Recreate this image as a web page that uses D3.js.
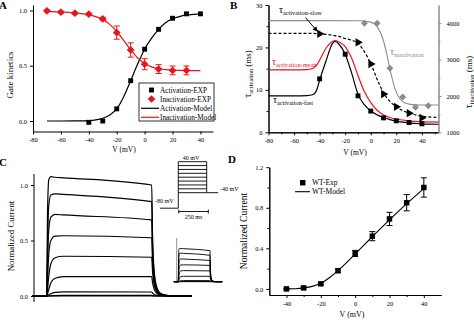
<!DOCTYPE html>
<html><head><meta charset="utf-8">
<script src="https://cdn.jsdelivr.net/npm/d3@7"></script>
<style>body{margin:0;background:#fff}svg{display:block}</style>
</head><body><svg id="c" width="474" height="321"></svg>
<script>
// ---------- Panel A data ----------
const aActVolt = [-40,-30,-20,-10,0,10,20,30,40];
const aActExp = [-0.012,0.0,0.11,0.365,0.65,0.83,0.93,0.97,0.97];
const aInVolt = [-70,-60,-50,-40,-30,-20,-10,0,10,20,30];
const aInactExp = [0.997,0.985,0.976,0.967,0.924,0.80,0.643,0.514,0.47,0.458,0.458];
const aInactErr = [0.008,0.008,0.008,0.01,0.015,0.06,0.065,0.05,0.04,0.04,0.04];
const aModelVolt = [-70,-60,-50,-40,-35,-30,-25,-20,-15,-10,-5,0,5,10,15,20,25,30,35,40];
const aActModel = [0,0,0.001,0.004,0.01,0.025,0.055,0.11,0.22,0.365,0.515,0.65,0.75,0.83,0.89,0.925,0.945,0.96,0.965,0.97];
const aInactModel = [0.993,0.988,0.978,0.96,0.945,0.92,0.875,0.81,0.73,0.645,0.57,0.52,0.49,0.473,0.465,0.46,0.458,0.457,0.456,0.456];
const aXTicks = [-80,-60,-40,-20,0,20,40];
const aYTicks = [0,0.5,1.0];
const aLegend = ["Activation-EXP","Inactivation-EXP","Activation-Model","Inactivation-Model"];

// ---------- Panel B data ----------
const bFastVolt = [-40,-20,-10,0,10,20,30,40];
const bFastExp = [12.6,18.4,8.6,5.0,3.4,2.7,2.3,2.0];
const bSlowVolt = [-40,-10,0,10,20,30,40];
const bSlowExp = [23.2,21.2,16.1,9.0,6.0,4.5,3.4];
const bInactVolt = [-5,5,15,25,35,45];
const bInactExp = [4000,4000,2760,1970,1690,1730];
const bModelVolt = [-80,-60,-50,-45,-42,-40,-35,-30,-28,-25,-20,-15,-10,-5,0,5,10,15,20,25,30,40,53];
const bFastModel = [8.6,8.6,8.65,8.9,10.2,12.3,16.8,20.9,21.4,20.8,18.4,14.0,9.0,6.5,5.0,4.1,3.5,3.0,2.6,2.4,2.2,2.0,1.9];
const bMeanModel = [14.7,14.7,14.75,15.1,16.0,17.0,19.8,21.4,21.6,21.3,20.2,17.5,13.4,9.6,7.0,5.2,4.1,3.5,3.1,2.9,2.7,2.5,2.4];
const bSlowModel = [23.3,23.3,23.3,23.3,23.25,23.2,23.1,22.9,22.8,22.6,22.1,21.7,21.0,19.0,16.2,12.5,9.3,7.3,6.0,5.1,4.5,3.8,3.5];
const bInactModelVolt = [-80,-10,0,5,10,13,15,18,20,25,30,35,40,53];
const bInactModel = [4070,4068,4030,3905,3510,3075,2745,2310,2105,1845,1775,1755,1752,1750];
const bXTicks = [-80,-60,-40,-20,0,20,40];
const bLTicks = [0,10,20,30];
const bRTicks = [1000,2000,3000,4000];

// ---------- Panel C data ----------
const cTimes = [-35,0,2,5,10,20,40,250,252,256,262,272,290,346];
const cTraces = [
  [0,0,0.75,1.05,1.075,1.07,1.065,1.0,0.55,0.22,0.08,0.02,0.003,0],
  [0,0,0.45,0.82,0.91,0.92,0.915,0.85,0.48,0.19,0.07,0.02,0.003,0],
  [0,0,0.3,0.6,0.71,0.735,0.73,0.685,0.39,0.16,0.06,0.015,0.002,0],
  [0,0,0.15,0.38,0.5,0.54,0.543,0.525,0.31,0.13,0.05,0.013,0.002,0],
  [0,0,0.06,0.18,0.29,0.345,0.358,0.349,0.22,0.1,0.04,0.01,0.002,0],
  [0,0,0.02,0.06,0.12,0.16,0.175,0.174,0.12,0.06,0.025,0.007,0.001,0],
  [0,0,0.003,0.01,0.02,0.032,0.038,0.036,0.026,0.014,0.006,0.002,0,0],
  [0,0,0,0.001,0.002,0.004,0.006,0.006,0.004,0.002,0.001,0,0,0]
];
const cYTicks = [0,0.5,1.0];
const protoLevels = [-40,-30,-20,-10,0,10,20,30,40];

// ---------- Panel D data ----------
const dVolt = [-40,-30,-20,-10,0,10,20,30,40];
const dExp = [0.0,0.01,0.05,0.18,0.35,0.52,0.69,0.85,1.0];
const dErr = [0.005,0.01,0.012,0.02,0.03,0.045,0.065,0.08,0.095];
const dModelVolt = [-40,-35,-30,-25,-20,-15,-10,-5,0,5,10,20,30,40];
const dModel = [0.0,0.002,0.01,0.025,0.055,0.11,0.18,0.26,0.345,0.43,0.515,0.68,0.84,0.99];
const dXTicks = [-40,-20,0,20,40];
const dYTicks = [0,0.4,0.8,1.2];

// ---------- drawing ----------
const FONT = '"Liberation Serif","Times New Roman",serif';
const RED = '#e8151d', GRAY = '#8c8c8c';
const svg = d3.select('#c');
svg.append('rect').attr('width',474).attr('height',321).attr('fill','#fff');
const fmtPlain = d => String(d).replace('\u2212','-');

function drawAxis(axisGen, tx, ty, fs) {
  const a = svg.append('g').attr('transform',`translate(${tx},${ty})`).call(axisGen);
  a.selectAll('text').attr('font-family',FONT).attr('font-size',fs).attr('fill','#000');
  a.selectAll('path,line').attr('stroke','#000').attr('stroke-width',1);
  return a;
}
function text(x,y,s,fs,opt={}) {
  const t = svg.append('text').attr('x',x).attr('y',y).text(s)
    .attr('font-family',FONT).attr('font-size',fs).attr('fill',opt.fill||'#000')
    .attr('text-anchor',opt.anchor||'start');
  if (opt.weight) t.attr('font-weight',opt.weight);
  return t;
}
function rotLabel(x,y,parts) {
  const t = svg.append('text').attr('transform',`translate(${x},${y}) rotate(-90)`)
    .attr('font-family',FONT).attr('text-anchor','middle').attr('fill','#000');
  parts.forEach(p => t.append('tspan').text(p.s).attr('font-size',p.fs).attr('dy',p.dy||0));
  return t;
}
function tauLabel(x,y,sub,fill) {
  const t = svg.append('text').attr('x',x).attr('y',y).attr('font-family',FONT).attr('fill',fill);
  t.append('tspan').text('\u03c4').attr('font-size',10);
  t.append('tspan').text(sub).attr('font-size',6.3).attr('dy',2);
}

// ===== Panel A =====
const ax = d3.scaleLinear().domain([-80,49]).range([33,213]);
const ay = d3.scaleLinear().domain([-0.095,1.05]).range([131.5,5]);
drawAxis(d3.axisBottom(ax).tickValues(aXTicks).tickFormat(fmtPlain).tickSize(3).tickSizeOuter(0).tickPadding(3),0,131.5,6.5);
drawAxis(d3.axisLeft(ay).tickValues(aYTicks).tickFormat(d3.format('.1f')).tickSize(3).tickSizeOuter(0).tickPadding(3),33,0,6.5);
text(124,152,'V (mV)',7.5,{anchor:'middle'});
rotLabel(13,75,[{s:'Gate kinetics',fs:9}]);
const aLine = d3.line().x(d=>ax(d[0])).y(d=>ay(d[1])).curve(d3.curveMonotoneX);
svg.append('path').attr('d',aLine(d3.zip(aModelVolt,aActModel))).attr('fill','none').attr('stroke','#000').attr('stroke-width',1.2);
svg.append('path').attr('d',aLine(d3.zip(aModelVolt,aInactModel))).attr('fill','none').attr('stroke',RED).attr('stroke-width',1.2);
// error bars inactivation
aInVolt.forEach((v,i)=>{
  const x=ax(v), y1=ay(aInactExp[i]-aInactErr[i]), y2=ay(aInactExp[i]+aInactErr[i]);
  svg.append('line').attr('x1',x).attr('x2',x).attr('y1',y1).attr('y2',y2).attr('stroke',RED).attr('stroke-width',1);
  [y1,y2].forEach(yy=>svg.append('line').attr('x1',x-3).attr('x2',x+3).attr('y1',yy).attr('y2',yy).attr('stroke',RED).attr('stroke-width',1));
});
const diamond = d3.symbol().type(d3.symbolSquare).size(30)();
aInVolt.forEach((v,i)=>svg.append('path').attr('d',diamond).attr('fill',RED)
  .attr('transform',`translate(${ax(v)},${ay(aInactExp[i])}) rotate(45)`));
const sqA = d3.symbol().type(d3.symbolSquare).size(24)();
aActVolt.forEach((v,i)=>svg.append('path').attr('d',sqA).attr('fill','#000')
  .attr('transform',`translate(${ax(v)},${ay(aActExp[i])})`));
// legend A
svg.append('rect').attr('x',139).attr('y',83).attr('width',75).attr('height',38).attr('fill','#fff').attr('stroke','#000').attr('stroke-width',0.8);
const legY = [90,99,108.3,117.3];
svg.append('path').attr('d',sqA).attr('fill','#000').attr('transform',`translate(151.5,${legY[0]})`);
svg.append('path').attr('d',diamond).attr('fill',RED).attr('transform',`translate(151.5,${legY[1]}) rotate(45)`);
svg.append('line').attr('x1',141).attr('x2',159).attr('y1',legY[2]).attr('y2',legY[2]).attr('stroke','#000').attr('stroke-width',1.2);
svg.append('line').attr('x1',141).attr('x2',159).attr('y1',legY[3]).attr('y2',legY[3]).attr('stroke',RED).attr('stroke-width',1.2);
aLegend.forEach((s,i)=>text(160,legY[i]+2.5,s,7.3));

// ===== Panel B =====
const bx = d3.scaleLinear().domain([-80,53]).range([268.5,438.5]);
const byL = d3.scaleLinear().domain([0,30]).range([132.3,5]);
const byR = d3.scaleLinear().domain([1000,4500]).range([132.3,5]);
drawAxis(d3.axisBottom(bx).tickValues(bXTicks).tickFormat(fmtPlain).tickSize(3).tickSizeOuter(0).tickPadding(3),0,132.3,6.5);
drawAxis(d3.axisBottom(bx).tickValues([-70,-50,-30,-10,10,30,50]).tickFormat('').tickSize(2).tickSizeOuter(0),0,132.3,6.5);
drawAxis(d3.axisLeft(byL).tickValues(bLTicks).tickFormat(d3.format('d')).tickSize(3).tickSizeOuter(0).tickPadding(3),268.5,0,6.5);
drawAxis(d3.axisLeft(byL).tickValues([5,15,25]).tickFormat('').tickSize(2).tickSizeOuter(0),268.5,0,6.5);
drawAxis(d3.axisRight(byR).tickValues(bRTicks).tickFormat(d3.format('d')).tickSize(3).tickSizeOuter(0).tickPadding(5),438.5,0,6.5)
  .selectAll('path,line').attr('stroke',GRAY);
drawAxis(d3.axisRight(byR).tickValues([1500,2500,3500]).tickFormat('').tickSize(2).tickSizeOuter(0),438.5,0,6.5)
  .selectAll('path,line').attr('stroke',GRAY);
text(355,155,'V (mV)',7.5,{anchor:'middle'});
rotLabel(250.5,74,[{s:'\u03c4',fs:10},{s:'activation',fs:6.3,dy:2},{s:' (ms)',fs:9,dy:-2}]);
rotLabel(471.5,82,[{s:'\u03c4',fs:10},{s:'inactivation',fs:6.3,dy:2},{s:' (ms)',fs:9,dy:-2}]);
const bLineL = d3.line().x(d=>bx(d[0])).y(d=>byL(d[1])).curve(d3.curveMonotoneX);
const bLineR = d3.line().x(d=>bx(d[0])).y(d=>byR(d[1])).curve(d3.curveMonotoneX);
svg.append('path').attr('d',bLineR(d3.zip(bInactModelVolt,bInactModel))).attr('fill','none').attr('stroke',GRAY).attr('stroke-width',1.1);
svg.append('path').attr('d',bLineL(d3.zip(bModelVolt,bSlowModel))).attr('fill','none').attr('stroke','#000').attr('stroke-width',1.2).attr('stroke-dasharray','3,2');
svg.append('path').attr('d',bLineL(d3.zip(bModelVolt,bMeanModel))).attr('fill','none').attr('stroke',RED).attr('stroke-width',1.2);
svg.append('path').attr('d',bLineL(d3.zip(bModelVolt,bFastModel))).attr('fill','none').attr('stroke','#000').attr('stroke-width',1.2);
const dmB = d3.symbol().type(d3.symbolSquare).size(24)();
bInactVolt.forEach((v,i)=>svg.append('path').attr('d',dmB).attr('fill',GRAY)
  .attr('transform',`translate(${bx(v)},${byR(bInactExp[i])}) rotate(45)`));
const triB = d3.symbol().type(d3.symbolTriangle).size(30)();
bSlowVolt.forEach((v,i)=>svg.append('path').attr('d',triB).attr('fill','#000')
  .attr('transform',`translate(${bx(v)},${byL(bSlowExp[i])}) rotate(90)`));
bFastVolt.forEach((v,i)=>svg.append('path').attr('d',sqA).attr('fill','#000')
  .attr('transform',`translate(${bx(v)},${byL(bFastExp[i])})`));
tauLabel(279,13,'activation-slow','#000');
tauLabel(272,65,'activation-mean',RED);
tauLabel(273,103,'activation-fast','#000');
tauLabel(390,55,'inactivation',GRAY);
// arrow
const ax1=bx(-51), ay1=byL(27.0), ax2=bx(-41.5), ay2=byL(23.7);
svg.append('line').attr('x1',ax1).attr('y1',ay1).attr('x2',ax2).attr('y2',ay2).attr('stroke','#000').attr('stroke-width',1);
const ang = Math.atan2(ay2-ay1, ax2-ax1);
const hl=5, hw=2.5;
svg.append('path').attr('fill','#000').attr('d',
  `M${ax2},${ay2}L${ax2-hl*Math.cos(ang)+hw*Math.sin(ang)},${ay2-hl*Math.sin(ang)-hw*Math.cos(ang)}L${ax2-hl*Math.cos(ang)-hw*Math.sin(ang)},${ay2-hl*Math.sin(ang)+hw*Math.cos(ang)}Z`);

// ===== Panel C =====
const cx = d3.scaleLinear().domain([0,250]).range([46.7,151.7]);
const cy = d3.scaleLinear().domain([0,1]).range([296,185]);
svg.append('line').attr('x1',34).attr('x2',34).attr('y1',174).attr('y2',302).attr('stroke','#000');
drawAxis(d3.axisLeft(cy).tickValues(cYTicks).tickFormat(d3.format('.1f')).tickSize(3).tickSizeOuter(0).tickPadding(3),34,0,6.5)
  .select('.domain').remove();
svg.append('line').attr('x1',32).attr('x2',192).attr('y1',cy(0)).attr('y2',cy(0)).attr('stroke','#000');
rotLabel(14,236,[{s:'Normalized Current',fs:8.8}]);
const cLine = d3.line().x((d,i)=>cx(cTimes[i])).y(d=>cy(d)).curve(d3.curveMonotoneX);
cTraces.forEach(tr=>svg.append('path').attr('d',cLine(tr)).attr('fill','none').attr('stroke','#000').attr('stroke-width',1.2));
// inset traces
const ix = d3.scaleLinear().domain([0,250]).range([178.3,210]);
const iy = d3.scaleLinear().domain([0,1]).range([281.7,250.7]);
svg.append('line').attr('x1',176.7).attr('x2',176.7).attr('y1',238).attr('y2',281.7).attr('stroke','#777').attr('stroke-width',0.8);
svg.append('line').attr('x1',176.7).attr('x2',222).attr('y1',281.7).attr('y2',281.7).attr('stroke','#000').attr('stroke-width',0.8);
const iLine = d3.line().x((d,i)=>ix(cTimes[i])).y(d=>iy(d)).curve(d3.curveMonotoneX);
cTraces.forEach(tr=>svg.append('path').attr('d',iLine(tr)).attr('fill','none').attr('stroke','#000').attr('stroke-width',0.9));
// voltage protocol inset
const px = d3.scaleLinear().domain([0,250]).range([178.3,206.7]);
const py = d3.scaleLinear().domain([-40,40]).range([192.7,161.7]);
const pw = 0.9;
svg.append('path').attr('fill','none').attr('stroke','#000').attr('stroke-width',pw)
  .attr('d',`M${px(-160)},${py(-80)}H${px(0)}V${py(40)}`);
protoLevels.forEach(l=>svg.append('line').attr('x1',px(0)).attr('x2',px(250)).attr('y1',py(l)).attr('y2',py(l)).attr('stroke','#000').attr('stroke-width',pw));
svg.append('path').attr('fill','none').attr('stroke','#000').attr('stroke-width',pw)
  .attr('d',`M${px(250)},${py(40)}V${py(-40)}H${px(350)}`);
text(191,159.5,'40 mV',6,{anchor:'middle'});
text(220,190.5,'-40 mV',6);
text(155,203,'-80 mV',6);
// scale bar
const sb = d3.scaleLinear().domain([0,250]).range([178.8,208.3]);
svg.append('line').attr('x1',sb(0)).attr('x2',sb(250)).attr('y1',211.5).attr('y2',211.5).attr('stroke','#000').attr('stroke-width',pw);
[0,250].forEach(t=>svg.append('line').attr('x1',sb(t)).attr('x2',sb(t)).attr('y1',209.5).attr('y2',213.5).attr('stroke','#000').attr('stroke-width',pw));
text(193.5,219,'250 ms',6,{anchor:'middle'});

// ===== Panel D =====
const dx = d3.scaleLinear().domain([-50,50]).range([269.3,441]);
const dy = d3.scaleLinear().domain([-0.06,1.2]).range([295,167.2]);
drawAxis(d3.axisBottom(dx).tickValues(dXTicks).tickFormat(fmtPlain).tickSize(3).tickSizeOuter(0).tickPadding(3),0,295,6.5);
drawAxis(d3.axisBottom(dx).tickValues([-30,-10,10,30]).tickFormat('').tickSize(2).tickSizeOuter(0),0,295,6.5);
drawAxis(d3.axisLeft(dy).tickValues(dYTicks).tickFormat(d3.format('.1f')).tickSize(3).tickSizeOuter(0).tickPadding(3),269.3,0,6.5);
drawAxis(d3.axisLeft(dy).tickValues([0.2,0.6,1.0]).tickFormat('').tickSize(2).tickSizeOuter(0),269.3,0,6.5);
text(352,317,'V (mV)',8,{anchor:'middle'});
rotLabel(247,231,[{s:'Normalized Current',fs:9.5}]);
const dLine = d3.line().x(d=>dx(d[0])).y(d=>dy(d[1])).curve(d3.curveMonotoneX);
svg.append('path').attr('d',dLine(d3.zip(dModelVolt,dModel))).attr('fill','none').attr('stroke','#000').attr('stroke-width',1.1);
dVolt.forEach((v,i)=>{
  const x=dx(v), y1=dy(dExp[i]-dErr[i]), y2=dy(dExp[i]+dErr[i]);
  svg.append('line').attr('x1',x).attr('x2',x).attr('y1',y1).attr('y2',y2).attr('stroke','#000');
  [y1,y2].forEach(yy=>svg.append('line').attr('x1',x-3).attr('x2',x+3).attr('y1',yy).attr('y2',yy).attr('stroke','#000'));
});
const sqD = d3.symbol().type(d3.symbolSquare).size(30)();
dVolt.forEach((v,i)=>svg.append('path').attr('d',sqD).attr('fill','#000')
  .attr('transform',`translate(${dx(v)},${dy(dExp[i])})`));
svg.append('path').attr('d',sqD).attr('fill','#000').attr('transform','translate(302.7,182.7)');
svg.append('line').attr('x1',295).attr('x2',310).attr('y1',191.7).attr('y2',191.7).attr('stroke','#000').attr('stroke-width',1.1);
text(312,185.3,'WT-Exp',7.5);
text(312,194.3,'WT-Model',7.5);

// panel letters
text(-1,9,'A',11,{weight:'bold'});
text(230,9,'B',11,{weight:'bold'});
text(-1,166,'C',11,{weight:'bold'});
text(228,162.5,'D',11,{weight:'bold'});
</script></body></html>
